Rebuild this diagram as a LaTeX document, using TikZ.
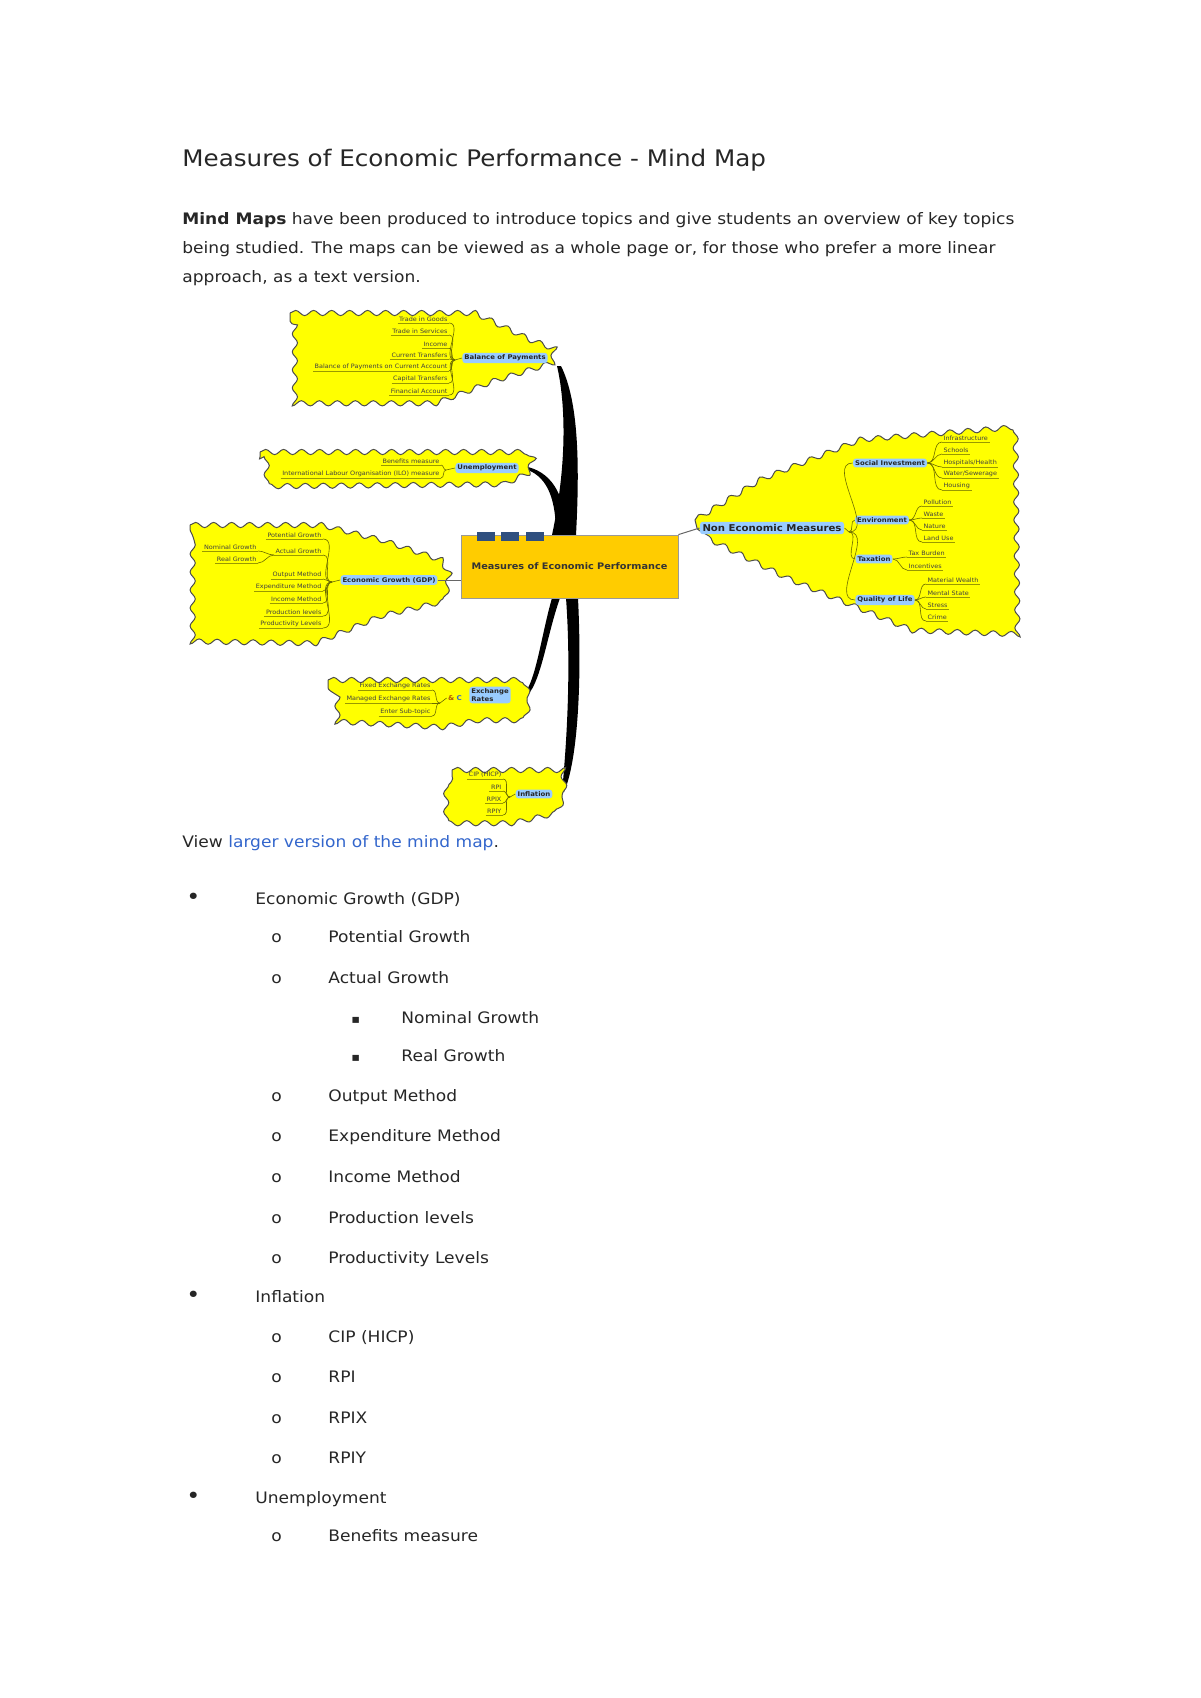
\documentclass[tikz,border=0pt]{standalone}
\usepackage{fontspec}
\setmainfont{DejaVu Sans}[FakeStretch=1.08]
\usetikzlibrary{decorations.pathmorphing}
\definecolor{cloudy}{HTML}{FFFF00}
\definecolor{topicb}{HTML}{99CCFF}
\definecolor{boxor}{HTML}{FFCC00}
\definecolor{tabb}{HTML}{2F4F7F}
\definecolor{linkb}{HTML}{3366CC}
\definecolor{leafline}{HTML}{999900}
\tikzset{
  cloud/.style={draw=black!70,line width=0.5pt,fill=cloudy,decorate,decoration={snake,segment length=9pt,amplitude=1.3pt}},
  leaf/.style={font=\fontsize{3.0}{3.4}\selectfont,text=black!75,inner sep=0.6pt,
    append after command={(\tikzlastnode.south west) edge[draw=leafline,line width=0.3pt] (\tikzlastnode.south east)}},
  topic/.style={fill=topicb,rounded corners=1.5pt,font=\fontsize{3.2}{3.8}\selectfont\bfseries,inner sep=1pt,text=black!85},
  conn/.style={draw=leafline!70!black,line width=0.3pt},
  branch/.style={fill=black},
  body/.style={font=\fontsize{7.9}{9}\selectfont,anchor=base west,inner sep=0pt,text=black!85},
}
\begin{document}
\begin{tikzpicture}[x=0.5pt,y=-0.5pt]
\useasboundingbox (0,0) rectangle (1200,1698);
% heading
\node[anchor=base west,inner sep=0pt,font=\fontsize{11.4}{13}\selectfont,text=black!85] (title) at (182,166) {Measures of Economic Performance - Mind Map};
\node[body] (p1) at (182,224) {\textbf{Mind Maps} have been produced to introduce topics and give students an overview of key topics};
\node[body] (p2) at (182,253) {being studied. The maps can be viewed as a whole page or, for those who prefer a more linear};
\node[body] (p3) at (182,282) {approach, as a text version.};

% branches
\fill[branch] (552,535) .. controls (568,460) and (565,400) .. (557,366) -- (561,366) .. controls (578,400) and (580,460) .. (576,535) -- cycle;
\fill[branch] (556,535) .. controls (556,500) and (548,478) .. (528,470) -- (528,467) .. controls (555,474) and (566,500) .. (566,535) -- cycle;
\fill[branch] (560,598) .. controls (545,640) and (540,695) .. (520,700) -- (520,697) .. controls (535,690) and (540,640) .. (552,598) -- cycle;
\fill[branch] (566,598) .. controls (572,680) and (565,760) .. (562,792) -- (564,792) .. controls (578,760) and (582,680) .. (578,598) -- cycle;

% clouds
\draw[cloud] (290,313) -- (470,313) -- (530,342) -- (557,352) -- (555,368) -- (500,385) -- (440,408) -- (290,408) -- cycle;
\draw[cloud] (260,452) -- (520,452) -- (528,462) -- (522,478) -- (500,488) -- (260,490) -- cycle;
\draw[cloud] (190,525) -- (320,525) -- (380,540) -- (440,560) -- (449,575) -- (445,600) -- (380,615) -- (320,640) -- (190,638) -- cycle;
\draw[cloud] (328,680) -- (515,680) -- (520,700) -- (515,722) -- (470,722) -- (440,728) -- (328,722) -- cycle;
\draw[cloud] (452,770) -- (560,770) -- (562,800) -- (555,815) -- (510,825) -- (452,825) -- cycle;
\draw[cloud] (695,520) -- (760,480) -- (860,440) -- (1010,428) -- (1012,634) -- (900,630) -- (780,580) -- (700,540) -- cycle;

% central box
\node[draw=black!40,fill=boxor,minimum width=108.5pt,minimum height=31.5pt,font=\fontsize{4.5}{6}\selectfont\bfseries,text=black!80] (c) at (569.5,566.5) {Measures of Economic Performance};
\foreach \x/\nm in {486/t1,510/t2,535/t3}
  \node[fill=tabb,minimum width=9pt,minimum height=4.5pt,inner sep=0pt] (\nm) at (\x,536) {};

% Balance of payments
\node[topic] (bop) at (505,358) {Balance of Payments};
\coordinate (hb) at (455,360);
\foreach \t/\y/\nm in {Trade in Goods/323/b1,Trade in Services/335/b2,Income/348/b3,Current Transfers/359/b4,Balance of Payments on Current Account/371/b5,Capital Transfers/383/b6,Financial Account/395/b7}{
  \node[leaf,anchor=south east] (\nm) at (449,\y) {\t};
  \draw[conn] (\nm.south east) to[out=0,in=180] (hb);
}
\draw[conn] (hb) -- (bop.west);

% Unemployment
\node[topic] (un) at (487,468) {Unemployment};
\coordinate (hu) at (446,470);
\node[leaf,anchor=south east] (u1) at (441,465) {Benefits measure};
\node[leaf,anchor=south east] (u2) at (441,478) {International Labour Organisation (ILO) measure};
\foreach \nm in {u1,u2} \draw[conn] (\nm.south east) to[out=0,in=180] (hu);
\draw[conn] (hu) -- (un.west);

% Economic growth
\node[topic] (eg) at (389,580) {Economic Growth (GDP)};
\coordinate (he) at (332,582);
\foreach \t/\y/\nm in {Potential Growth/539/g1,Actual Growth/555/g2,Output Method/579/g3,Expenditure Method/591/g4,Income Method/603/g5,Production levels/616/g6,Productivity Levels/628/g7}{
  \node[leaf,anchor=south east] (\nm) at (323,\y) {\t};
  \draw[conn] (\nm.south east) to[out=0,in=180] (he);
}
\draw[conn] (he) -- (eg.west);
\node[leaf,anchor=south east] (n1) at (258,551) {Nominal Growth};
\node[leaf,anchor=south east] (n2) at (258,563) {Real Growth};
\foreach \nm in {n1,n2} \draw[conn] (\nm.south east) to[out=0,in=180] (g2.south west);

% Exchange rates
\node[topic,align=left] (ex) at (490,695) {Exchange\\Rates};
\node[font=\fontsize{3.3}{4}\selectfont\bfseries,inner sep=0.5pt] (amp) at (455,698) {\textcolor{orange!70!black}{\&} \textcolor{linkb}{C}};
\coordinate (hx) at (440,703);
\foreach \t/\y/\nm in {Fixed Exchange Rates/690/x1,Managed Exchange Rates/703/x2,Enter Sub-topic/716/x3}{
  \node[leaf,anchor=south east] (\nm) at (432,\y) {\t};
  \draw[conn] (\nm.south east) to[out=0,in=180] (hx);
}
\draw[conn] (hx) -- (amp.west);

% Inflation
\node[topic] (inf) at (534,794) {Inflation};
\coordinate (hi) at (510,797);
\foreach \t/\y/\nm in {CIP (HICP)/779/i1,RPI/791/i2,RPIX/803/i3,RPIY/815/i4}{
  \node[leaf,anchor=south east] (\nm) at (503,\y) {\t};
  \draw[conn] (\nm.south east) to[out=0,in=180] (hi);
}
\draw[conn] (hi) -- (inf.west);

% Non economic measures
\node[topic,font=\fontsize{4.7}{6}\selectfont\bfseries,inner sep=1.3pt] (ne) at (772,528) {Non Economic Measures};
\coordinate (hn) at (849,532);
\draw[conn] (ne.east) -- (hn);
\node[topic] (s1) at (890,463) {Social Investment};
\node[topic] (s2) at (882,520) {Environment};
\node[topic] (s3) at (874,559) {Taxation};
\node[topic] (s4) at (885,600) {Quality of Life};
\foreach \nm in {s1,s2,s3,s4} \draw[conn] (hn) to[out=0,in=180] (\nm.west);
\foreach \t/\y/\nm in {Infrastructure/442/l1,Schools/454/l2,{Hospitals/Health}/467/l3,{Water/Sewerage}/478/l4,Housing/490/l5}{
  \node[leaf,anchor=south west] (\nm) at (942,\y) {\t};
  \draw[conn] (s1.east) to[out=0,in=180] (\nm.south west);
}
\foreach \t/\y/\nm in {Pollution/506/e1,Waste/518/e2,Nature/530/e3,Land Use/542/e4}{
  \node[leaf,anchor=south west] (\nm) at (922,\y) {\t};
  \draw[conn] (s2.east) to[out=0,in=180] (\nm.south west);
}
\foreach \t/\y/\nm in {Tax Burden/557/k1,Incentives/570/k2}{
  \node[leaf,anchor=south west] (\nm) at (907,\y) {\t};
  \draw[conn] (s3.east) to[out=0,in=180] (\nm.south west);
}
\foreach \t/\y/\nm in {Material Wealth/584/q1,Mental State/597/q2,Stress/609/q3,Crime/621/q4}{
  \node[leaf,anchor=south west] (\nm) at (926,\y) {\t};
  \draw[conn] (s4.east) to[out=0,in=180] (\nm.south west);
}

% connectors from central box
\draw[black!60,line width=0.5pt] (c.west |- eg) -- (eg.east);
\draw[black!60,line width=0.5pt] (c.north east) -- (ne.west);

% text below
\node[body] (view) at (182,847) {View \textcolor{linkb}{larger version of the mind map}.};
\foreach \lvl/\t/\y [count=\i] in {1/Economic Growth (GDP)/904,2/Potential Growth/942,2/Actual Growth/983,3/Nominal Growth/1023,3/Real Growth/1061,2/Output Method/1101,2/Expenditure Method/1141,2/Income Method/1182,2/Production levels/1223,2/Productivity Levels/1263,1/Inflation/1302,2/CIP (HICP)/1342,2/RPI/1382,2/RPIX/1423,2/RPIY/1463,1/Unemployment/1503,2/Benefits measure/1541}{
  \ifnum\lvl=1
    \node[body,font=\fontsize{11}{12}\selectfont] (m\i) at (186,\y) {•};
    \node[body] (t\i) at (255,\y) {\t};
  \fi
  \ifnum\lvl=2
    \node[body] (m\i) at (271,\y) {o};
    \node[body] (t\i) at (328,\y) {\t};
  \fi
  \ifnum\lvl=3
    \node[body,font=\fontsize{6}{7}\selectfont] (m\i) at (351,\y) {▪};
    \node[body] (t\i) at (401,\y) {\t};
  \fi
}
\end{tikzpicture}
\end{document}
